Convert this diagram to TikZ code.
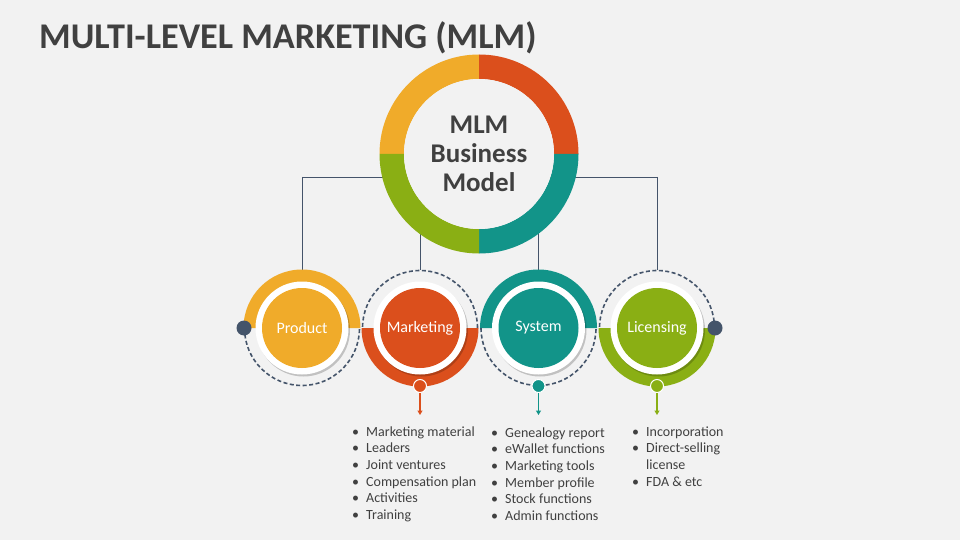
\documentclass[tikz,border=0pt]{standalone}
\usepackage{fontspec}
\setmainfont{Carlito}
\usetikzlibrary{arrows.meta,calc}
\definecolor{bg}{HTML}{F2F2F2}
\definecolor{cOr}{HTML}{F0AB2A}
\definecolor{cRd}{HTML}{DB4F1C}
\definecolor{cTl}{HTML}{129489}
\definecolor{cGr}{HTML}{8AAF14}
\definecolor{slate}{HTML}{44546A}
\definecolor{txt}{HTML}{404040}
\newcommand\annseg[7]{\fill[#1] (#2,#3) ++(#4:#6) arc[start angle=#4,end angle=#5,radius=#6] -- ($(#2,#3)+(#5:#7)$) arc[start angle=#5,end angle=#4,radius=#7] -- cycle;}
\newcommand\bul[1]{\makebox[14pt][l]{\textbullet}#1}
\begin{document}
\begin{tikzpicture}[x=1pt,y=1pt,
  conn/.style={draw=slate, line width=0.9pt},
  dashring/.style={draw=slate, line width=1.6pt, dash pattern=on 4pt off 2.5pt},
  inner/.style={circle, fill=#1, minimum size=80pt, inner sep=0pt, text=white, font=\fontsize{16}{18}\selectfont},
  whitedisc/.style={fill=white},
  shadowdisc/.style={fill=black, opacity=0.2},
  enddot/.style={circle, fill=slate, minimum size=15pt, inner sep=0pt},
  cdot/.style={circle, fill=#1, draw=white, line width=1pt, minimum size=13pt, inner sep=0pt},
  arr/.style={draw=#1, line width=1.2pt, -{Triangle[length=4.5pt,width=5pt]}},
  item/.style={anchor=base west, inner sep=0pt, text=txt, font=\fontsize{14}{16.8}\selectfont},
]
\useasboundingbox (0,0) rectangle (960,-540);
\fill[bg] (0,0) rectangle (960,-540);

% title
\node[anchor=base west, inner sep=0pt, text=txt, font=\bfseries\fontsize{36.2}{40}\selectfont] (title) at (39,-49) {MULTI-LEVEL MARKETING (MLM)};

% junction coordinates
\coordinate (jl) at (302,-177);
\coordinate (jr) at (657,-177);
\coordinate (ptop) at (302,-270);
\coordinate (mtop) at (420,-270);
\coordinate (stop) at (538.5,-270);
\coordinate (ltop) at (657,-270);

% connectors
\draw[conn] (jl) -- (jr);
\draw[conn] (jl) -- (ptop);
\draw[conn] (jr) -- (ltop);
\draw[conn] (mtop |- jl) -- (mtop);
\draw[conn] (stop |- jl) -- (stop);

% central ring
\annseg{cOr}{479}{-154}{90}{180}{99.5}{75}
\annseg{cRd}{479}{-154}{0}{90}{99.5}{75}
\annseg{cTl}{479}{-154}{-90}{0}{99.5}{75}
\annseg{cGr}{479}{-154}{180}{270}{99.5}{75}
\node[circle, fill=bg, minimum size=150pt, inner sep=0pt, align=center, text=txt,
      font=\bfseries\fontsize{27}{29}\selectfont] (mlm) at (479,-154) {MLM\\Business\\Model};

% bands
\annseg{cOr}{302}{-328}{0}{180}{58.5}{46}
\annseg{cRd}{420}{-328}{180}{360}{58.5}{46}
\annseg{cTl}{538.5}{-328}{0}{180}{58.5}{46}
\annseg{cGr}{657}{-328}{180}{360}{58.5}{46}

% dashed halves
\draw[dashring] (302,-328) ++(180:57.5) arc[start angle=180,end angle=360,radius=57.5];
\draw[dashring] (420,-328) ++(0:57.5) arc[start angle=0,end angle=180,radius=57.5];
\draw[dashring] (538.5,-328) ++(180:57.5) arc[start angle=180,end angle=360,radius=57.5];
\draw[dashring] (657,-328) ++(0:57.5) arc[start angle=0,end angle=180,radius=57.5];

% white discs with shadow
\foreach \cx in {302,420,538.5,657}{
  \fill[shadowdisc] (\cx+1.5,-330) circle (46.5);
  \fill[whitedisc] (\cx,-328) circle (46.5);
}
\node[inner=cOr] (prod) at (302,-328) {Product};
\node[inner=cRd] (mkt) at (420,-328) {Marketing};
\node[inner=cTl] (sys) at (538.5,-328) {System};
\node[inner=cGr] (lic) at (657,-328) {Licensing};

% dots
\node[enddot] (pdot) at (244,-328) {};
\node[enddot] (ldot) at (715,-328) {};
\node[cdot=cRd] (mdot) at (420,-386) {};
\node[cdot=cTl] (sdot) at (538.5,-386) {};
\node[cdot=cGr] (gdot) at (657,-386) {};

% arrows
\coordinate (mend) at (420,-415);
\coordinate (send) at (538.5,-415);
\coordinate (gend) at (657,-415);
\draw[arr=cRd] (mdot.south) -- (mend);
\draw[arr=cTl] (sdot.south) -- (send);
\draw[arr=cGr] (gdot.south) -- (gend);

% lists
\foreach \t [count=\i] in {Marketing material,Leaders,Joint ventures,Compensation plan,Activities,Training}
  \node[item] (m\i) at (352,-436-16.7*\i+16.7) {\bul{\t}};
\foreach \t [count=\i] in {Genealogy report,eWallet functions,Marketing tools,Member profile,Stock functions,Admin functions}
  \node[item] (s\i) at (491,-437-16.7*\i+16.7) {\bul{\t}};
\node[item] (l1) at (632,-436) {\bul{Incorporation}};
\node[item] (l2) at (632,-452.7) {\bul{Direct-selling}};
\node[item] (l3) at (646,-469.4) {license};
\node[item] (l4) at (632,-486.1) {\bul{FDA \& etc}};
\end{tikzpicture}
\end{document}
